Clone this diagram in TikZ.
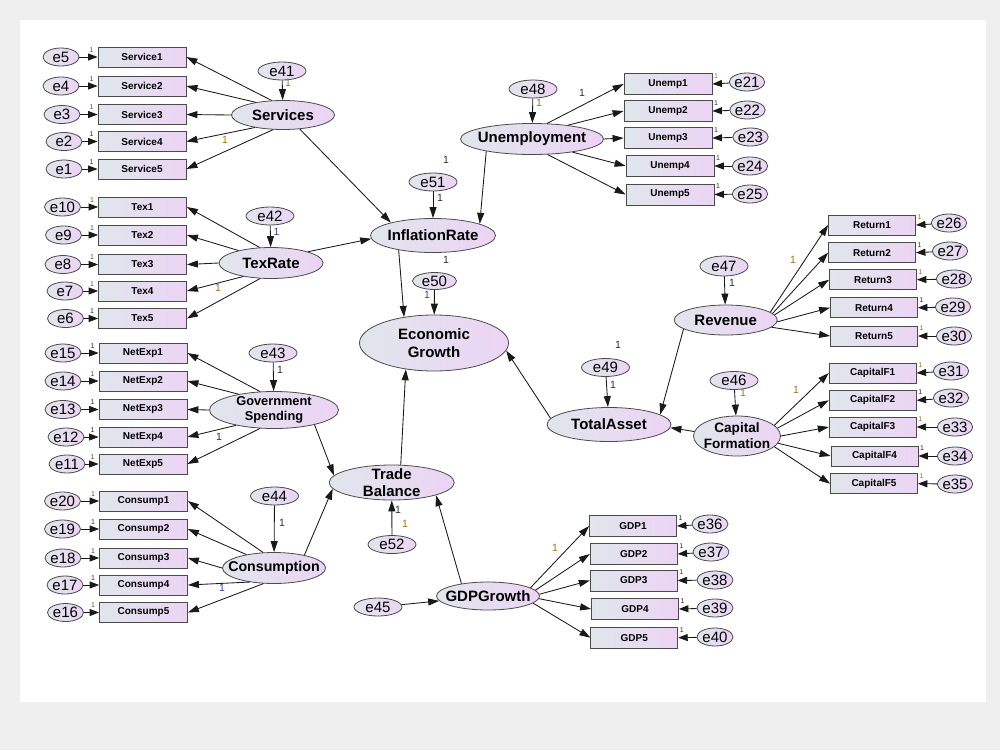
\documentclass[tikz,border=0pt]{standalone}
\usepackage{fontspec}
\setmainfont{Liberation Sans}
\usetikzlibrary{shapes.geometric,arrows.meta}
\definecolor{bgc}{RGB}{239,239,239}
\definecolor{fillL}{RGB}{224,230,236}
\definecolor{fillR}{RGB}{236,212,244}
\definecolor{bordc}{RGB}{75,75,75}
\definecolor{tR}{RGB}{150,55,35}
\definecolor{tB}{RGB}{40,70,160}
\definecolor{tD}{RGB}{45,45,45}
\definecolor{tO}{RGB}{160,115,20}
\tikzset{
 box/.style={rectangle, draw=bordc, line width=0.8pt, left color=fillL, right color=fillR, minimum width=88pt, minimum height=20pt, inner sep=0pt, font=\fontsize{10}{12}\selectfont\bfseries},
 err/.style={ellipse, draw=bordc, line width=0.8pt, left color=fillL, right color=fillR, inner sep=0pt, minimum width=36pt, minimum height=18pt, font=\fontsize{15}{17}\selectfont},
 errm/.style={err, minimum width=48pt},
 lat/.style={ellipse, draw=bordc, line width=0.8pt, left color=fillL, right color=fillR, inner sep=0pt},
 lattext/.style={font=\fontsize{15}{17.4}\selectfont\bfseries, align=center, inner sep=0pt},
 arr/.style={draw=black!90, line width=0.85pt, -{Triangle[length=11pt,width=7pt]}},
 earr/.style={draw=black!90, line width=0.85pt, -{Triangle[length=9.5pt,width=7pt]}},
 wt/.style={font=\fontsize{10.5}{12}\selectfont, text=tD, inner sep=0pt},
 tiny/.style={font=\fontsize{7}{8}\selectfont, inner sep=0pt},
}
\begin{document}
\begin{tikzpicture}[x=1pt,y=-1pt]
\fill[bgc] (0,0) rectangle (1000,750);
\fill[white] (20,20) rectangle (986,702);
\useasboundingbox (0,0) rectangle (1000,750);

% ---------- latent variables ----------
\node[lat, minimum width=103pt, minimum height=29pt, label={[lattext,name=SrvT]center:Services}] (Srv) at (283,115) {};
\node[lat, minimum width=104pt, minimum height=31pt, label={[lattext,name=TexT]center:TexRate}] (Tex) at (271,263) {};
\node[lat, minimum width=129pt, minimum height=37pt, label={[lattext,font=\fontsize{12.8}{14.7}\selectfont\bfseries,name=GovT]center:Government\\Spending}] (Gov) at (274,410) {};
\node[lat, minimum width=103pt, minimum height=31pt, label={[lattext,font=\fontsize{14.2}{16}\selectfont\bfseries,name=ConT]center:Consumption}] (Con) at (274,568) {};
\node[lat, minimum width=143pt, minimum height=31pt, label={[lattext,name=UnT]center:Unemployment}] (Un) at (532,139) {};
\node[lat, minimum width=125pt, minimum height=34pt, label={[lattext,name=IRT]center:InflationRate}] (IR) at (433,235.5) {};
\node[lat, minimum width=149pt, minimum height=56pt, label={[lattext,name=EGT]center:Economic\\Growth}] (EG) at (434,343) {};
\node[lat, minimum width=125pt, minimum height=35pt, label={[lattext,font=\fontsize{15}{17}\selectfont\bfseries,name=TBT]center:Trade\\Balance}] (TB) at (391.7,482.5) {};
\node[lat, minimum width=124pt, minimum height=34pt, label={[lattext,name=TAT]center:TotalAsset}] (TA) at (609,424.5) {};
\node[lat, minimum width=103pt, minimum height=30pt, label={[lattext,name=RevT]center:Revenue}] (Rev) at (725.7,320) {};
\node[lat, minimum width=87pt, minimum height=40pt, label={[lattext,font=\fontsize{13.6}{16}\selectfont\bfseries,name=CFT]center:Capital\\Formation}] (CF) at (737,436) {};
\node[lat, minimum width=103pt, minimum height=28pt, label={[lattext,name=GDPT]center:GDPGrowth}] (GDP) at (488,596) {};

% ---------- disturbance terms ----------
\node[errm] (e41) at (282,71) {e41};
\node[errm] (e42) at (270,216) {e42};
\node[errm] (e43) at (273,353) {e43};
\node[errm] (e44) at (274.5,496) {e44};
\node[errm] (e48) at (533,89) {e48};
\node[errm] (e51) at (433,182) {e51};
\node[errm, minimum width=44pt, minimum height=17pt] (e50) at (434.5,281) {e50};
\node[errm] (e52) at (392,544.5) {e52};
\node[errm] (e49) at (605.5,367.5) {e49};
\node[errm, minimum height=20pt] (e47) at (724,266) {e47};
\node[errm] (e46) at (734,380.5) {e46};
\node[errm] (e45) at (378,607) {e45};

\draw[arr] (e41) -- (Srv);
\draw[arr] (e42) -- (Tex);
\draw[arr] (e43) -- (Gov);
\draw[arr] (e44) -- (Con);
\draw[arr] (e48) -- (Un);
\draw[arr] (e51) -- (IR);
\draw[arr] (e50) -- (EG);
\draw[arr] (e52) -- (TB);
\draw[arr] (e49) -- (TA);
\draw[arr] (e47) -- (Rev);
\draw[arr] (e46) -- (CF);
\draw[arr] (e45) -- (GDP);

% ---------- structural paths ----------
\draw[arr] (Srv.320) -- (IR.163);
\draw[arr] (Tex.17) -- (IR.183);
\draw[arr] (Un.195) -- (IR.14);
\draw[arr] (IR.203) -- (EG.139);
\draw[arr] (TB.63) -- (EG.223);
\draw[arr] (TA.174) -- (EG.354);
\draw[arr] (Rev.192) -- (TA.11);
\draw[arr] (CF.174) -- (TA.357);
\draw[arr] (Gov.340) -- (TB.173);
\draw[arr] (Con.23) -- (TB.186);
\draw[arr] (GDP.155) -- (TB.344);

% ---------- weight labels ----------
\node[wt, text=tO] (w1) at (225,140) {1};
\node[wt, text=tO] (w2) at (218,288) {1};
\node[wt] (w3) at (219,437) {1};
\node[wt, text=tB] (w4) at (222,588) {1};
\node[wt] (w5) at (582,93) {1};
\node[wt, text=tO] (w6) at (793,260) {1};
\node[wt, text=tO] (w7) at (796,390) {1};
\node[wt, text=tO] (w8) at (555,548) {1};
\node[wt, text=tO] (w9) at (288,83) {1};
\node[wt, text=tB] (w10) at (276.5,231.5) {1};
\node[wt] (w11) at (280,370) {1};
\node[wt] (w12) at (282,523) {1};
\node[wt, text=tO] (w13) at (539,103) {1};
\node[wt] (w14) at (446,160) {1};
\node[wt] (w15) at (440,198) {1};
\node[wt] (w16) at (446,260) {1};
\node[wt, text=tB] (w17) at (427,295) {1};
\node[wt] (w18) at (618,345) {1};
\node[wt] (w19) at (613,385) {1};
\node[wt] (w20) at (398,510) {1};
\node[wt, text=tO] (w21) at (405,524) {1};
\node[wt] (w22) at (732,283) {1};
\node[wt, text=tO] (w23) at (743,393) {1};

% ---------- left indicator groups ----------
\foreach \i/\y/\ex/\en/\ang/\tc in {1/57/61/5/128/tR, 2/86/61/4/155/tB, 3/114.5/62/3/180/tR, 4/141.5/64/2/204/tD, 5/169/64/1/236/tD} {
 \node[box] (S\i) at (142,\y) {Service\i};
 \node[err] (e\en) at (\ex,\y) {e\en};
 \draw[earr] (e\en) -- (S\i);
 \node[tiny, text=\tc] (t\en) at (91.5,\y-7) {1};
 \draw[arr] (Srv.\ang) -- (S\i.east);
}
\foreach \i/\y/\ex/\en/\ang/\tc in {1/207/62.5/10/126/tR, 2/235/63.5/9/159/tB, 3/264.5/63/8/180/tR, 4/291/65/7/206/tR, 5/318.5/65.5/6/235/tD} {
 \node[box] (T\i) at (142.5,\y) {Tex\i};
 \node[err] (e\en) at (\ex,\y) {e\en};
 \draw[earr] (e\en) -- (T\i);
 \node[tiny, text=\tc] (t\en) at (92,\y-7) {1};
 \draw[arr] (Tex.\ang) -- (T\i.east);
}
\foreach \i/\y/\ex/\en/\ang/\tc in {1/353/63/15/127/tD, 2/381/63/14/156/tR, 3/409.5/63/13/180/tD, 4/437/66/12/202/tD, 5/464/67/11/233/tR} {
 \node[box] (N\i) at (143,\y) {NetExp\i};
 \node[err] (e\en) at (\ex,\y) {e\en};
 \draw[earr] (e\en) -- (N\i);
 \node[tiny, text=\tc] (t\en) at (92.5,\y-7) {1};
 \draw[arr] (Gov.\ang) -- (N\i.east);
}
\foreach \i/\y/\ex/\en/\ang/\tc in {1/501/62.5/20/125/tR, 2/529/62.5/19/154/tD, 3/558/63/18/180/tB, 4/585/65/17/210/tD, 5/612.5/65.5/16/236/tR} {
 \node[box] (C\i) at (143.5,\y) {Consump\i};
 \node[err] (e\en) at (\ex,\y) {e\en};
 \draw[earr] (e\en) -- (C\i);
 \node[tiny, text=\tc] (t\en) at (93,\y-7) {1};
 \draw[arr] (Con.\ang) -- (C\i.east);
}

% ---------- right indicator groups ----------
\foreach \i/\bx/\by/\ex/\ey/\en/\ang/\tc in {1/668/84/747/82/21/46/tO, 2/668/111/747.5/110/22/21/tD, 3/668/138/750.5/137/23/0/tD, 4/670/166/750/166/24/342/tD, 5/670/194.5/750/194/25/315/tD} {
 \node[box, minimum height=21pt] (U\i) at (\bx,\by) {Unemp\i};
 \node[err, minimum width=35pt] (e\en) at (\ex,\ey) {e\en};
 \draw[earr] (e\en) -- (U\i.east);
 \node[tiny, text=\tc] (t\en) at (\bx+48,\by-8) {1};
 \draw[arr] (Un.\ang) -- (U\i.west);
}
\foreach \i/\bx/\by/\ex/\ey/\en/\ang/\tc in {1/872/225/949/223/26/10/tO, 2/872/252.7/950/251/27/8.6/tD, 3/873/279.7/954/279/28/6/tO, 4/874/307.7/953/307/29/358/tD, 5/874/336/954/336/30/351/tO} {
 \node[box, minimum width=87pt] (R\i) at (\bx,\by) {Return\i};
 \node[err, minimum width=35pt] (e\en) at (\ex,\ey) {e\en};
 \draw[earr] (e\en) -- (R\i.east);
 \node[tiny, text=\tc] (t\en) at (\bx+47.5,\by-8) {1};
 \draw[arr] (Rev.\ang) -- (R\i.west);
}
\foreach \i/\bx/\by/\ex/\ey/\en/\ang/\tc in {1/872.7/373/951/371/31/16/tO, 2/872.7/400.3/951/398/32/11/tD, 3/872.7/427/955/427/33/0/tO, 4/874.5/456/955/456/34/350/tD, 5/874/483.7/955/484/35/344/tO} {
 \node[box, minimum width=87pt] (F\i) at (\bx,\by) {CapitalF\i};
 \node[err, minimum width=35pt] (e\en) at (\ex,\ey) {e\en};
 \draw[earr] (e\en) -- (F\i.east);
 \node[tiny, text=\tc] (t\en) at (\bx+47.5,\by-8) {1};
 \draw[arr] (CF.\ang) -- (F\i.west);
}
\foreach \i/\bx/\by/\ex/\ey/\en/\ang/\tc in {1/633/526/710/524/36/11/tD, 2/633.7/554/711/552/37/7/tD, 3/633.7/580.5/715/580/38/2/tD, 4/635/609/715/608/39/357/tD, 5/634.3/637.7/715/637/40/351/tD} {
 \node[box, minimum width=87pt, minimum height=21pt] (G\i) at (\bx,\by) {GDP\i};
 \node[err, minimum width=36pt] (e\en) at (\ex,\ey) {e\en};
 \draw[earr] (e\en) -- (G\i.east);
 \node[tiny, text=\tc] (t\en) at (\bx+47.5,\by-8) {1};
 \draw[arr] (GDP.\ang) -- (G\i.west);
}
\end{tikzpicture}
\end{document}
